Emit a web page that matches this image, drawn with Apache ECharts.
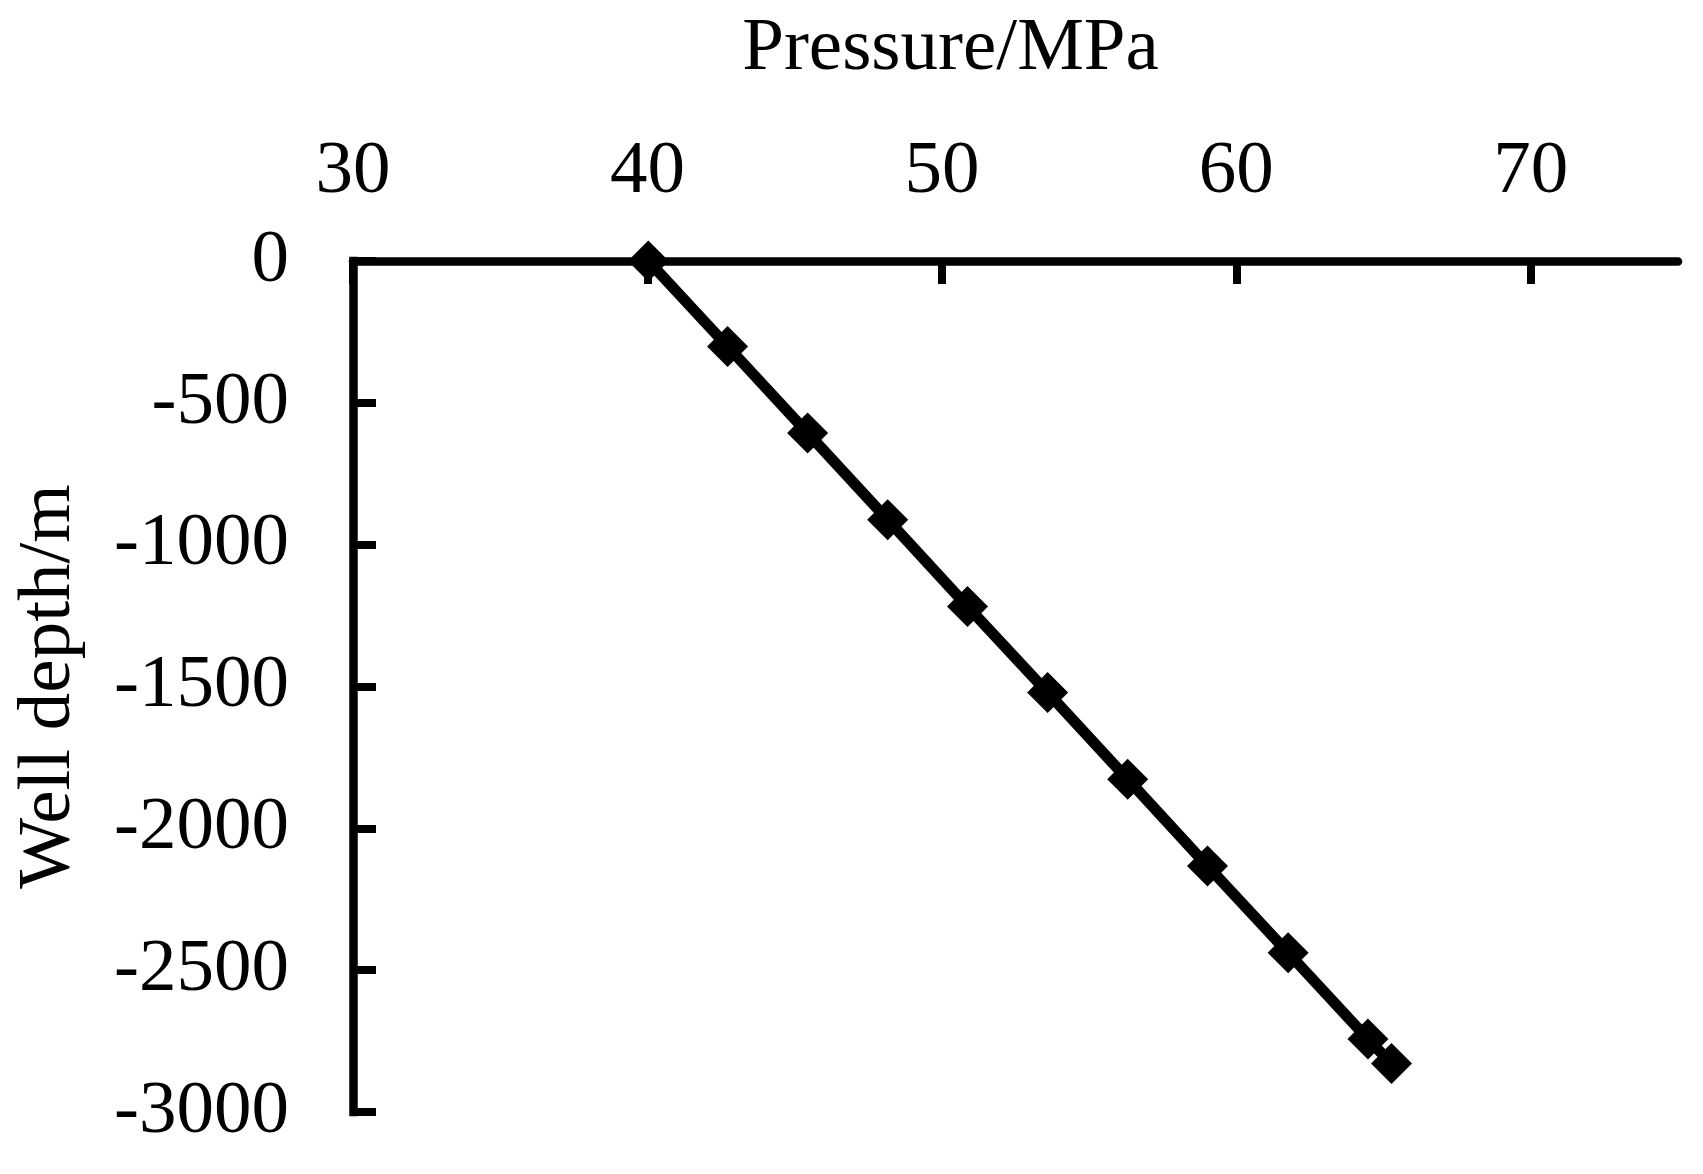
<!DOCTYPE html>
<html>
<head>
<meta charset="utf-8">
<script src="https://cdn.jsdelivr.net/npm/echarts@6/dist/echarts.min.js"></script>
<style>
html,body{margin:0;padding:0;background:#fff;}
#chart{width:1703px;height:1174px;}
</style>
</head>
<body>
<div id="chart"></div>
<script>
// Data
const pressureMPa = [40.03, 42.72, 45.44, 48.16, 50.87, 53.59, 56.31, 59.02, 61.76, 64.47, 65.27];
const wellDepthM  = [0, -301, -606, -912, -1218, -1521, -1827, -2133, -2439, -2743, -2829];
const xTickValues = [30, 40, 50, 60, 70];
const xAxisTitle = 'Pressure/MPa';
const yAxisTitle = 'Well depth/m';

const seriesData = pressureMPa.map((p, i) => [p, wellDepthM[i]]);
const FONT = "'Liberation Serif', 'Times New Roman', 'DejaVu Serif', serif";

const chart = echarts.init(document.getElementById('chart'), null, {renderer: 'canvas'});
chart.setOption({
  backgroundColor: '#ffffff',
  animation: false,
  grid: {left: 353, top: 261, width: 1325, height: 851, containLabel: false, outerBoundsMode: 'none'},
  xAxis: {
    type: 'value',
    position: 'top',
    min: 30, max: 75, interval: 10,
    name: xAxisTitle,
    nameLocation: 'middle',
    nameGap: 174,
    nameTextStyle: {fontFamily: FONT, fontSize: 75, color: '#000', padding: [0, 130, 0, 0]},
    axisLine: {onZero: false, lineStyle: {color: '#000', width: 8.5}},
    axisTick: {inside: true, length: 23, lineStyle: {color: '#000', width: 8}, customValues: xTickValues},
    axisLabel: {margin: 51, fontFamily: FONT, fontSize: 75, color: '#000', customValues: xTickValues,
      formatter: v => String(v)},
    splitLine: {show: false}
  },
  yAxis: {
    type: 'value',
    min: -3000, max: 0, interval: 500,
    name: yAxisTitle,
    nameLocation: 'middle',
    nameRotate: 90,
    nameGap: 266,
    nameTextStyle: {fontFamily: FONT, fontSize: 75, color: '#000'},
    axisLine: {onZero: false, lineStyle: {color: '#000', width: 8.5, cap: 'square'}},
    axisTick: {inside: true, length: 23, lineStyle: {color: '#000', width: 8}},
    axisLabel: {margin: 64, fontFamily: FONT, fontSize: 75, color: '#000',
      formatter: v => String(v)},
    splitLine: {show: false}
  },
  series: [{
    type: 'line',
    data: seriesData,
    symbol: 'diamond',
    symbolSize: 41,
    showSymbol: true,
    lineStyle: {color: '#000', width: 11},
    itemStyle: {color: '#000'},
    clip: false
  }]
});
</script>
</body>
</html>
